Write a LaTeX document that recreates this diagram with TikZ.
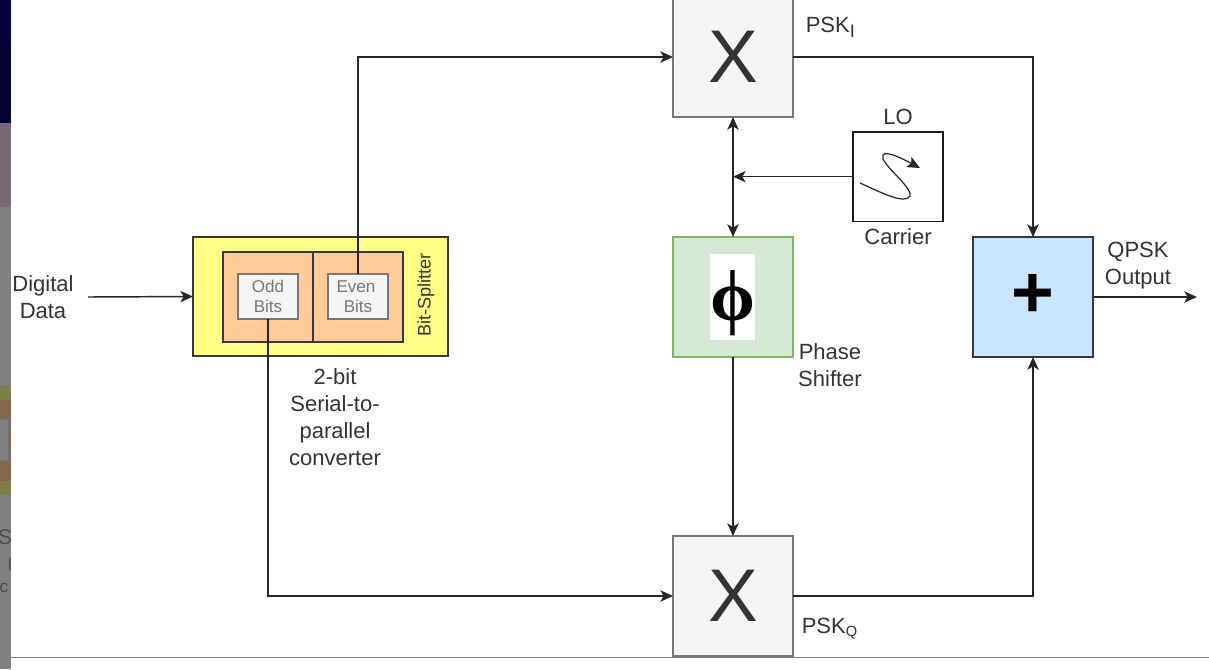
\documentclass[tikz,border=0pt]{standalone}
\usepackage{fontspec}
\setmainfont{Liberation Sans}
\usetikzlibrary{arrows.meta,calc}
\definecolor{txt}{HTML}{333333}
\definecolor{gborder}{HTML}{777777}
\definecolor{dborder}{HTML}{36393D}
\definecolor{gfill}{HTML}{F5F5F5}
\definecolor{orangef}{HTML}{FFCC99}
\definecolor{yellowf}{HTML}{FFFF88}
\definecolor{bluef}{HTML}{CCE5FF}
\definecolor{greenf}{HTML}{D5E8D4}
\definecolor{greenb}{HTML}{82B366}
\definecolor{navya}{HTML}{04033E}
\definecolor{navyb}{HTML}{020234}
\definecolor{mauve}{HTML}{7A6976}
\definecolor{stripg}{HTML}{808080}
\definecolor{olive}{HTML}{7E7E4C}
\definecolor{brownf}{HTML}{82674C}
\newcommand{\fsz}[1]{\fontsize{#1}{#1}\selectfont}
\newcommand{\fszb}[2]{\fontsize{#1}{#2}\selectfont}
\tikzset{
  x=0.75pt,y=-0.75pt,
  box/.style={draw,line width=1.1pt,inner sep=0pt,outer sep=0pt,anchor=north west},
  mult/.style={box,draw=gborder,fill=gfill,text=txt,minimum width=90pt,minimum height=90pt,font=\fsz{56}},
  inner cell/.style={box,draw=dborder,fill=orangef,minimum width=67.5pt,minimum height=67.5pt},
  bits/.style={box,draw=gborder,fill=gfill,text=gborder,minimum width=45pt,minimum height=33.75pt,align=center,font=\fszb{12.8}{15}},
  lbl/.style={text=txt,align=center,font=\fszb{16.5}{20.25},inner sep=0pt},
  conn/.style={draw=black!85,line width=1.1pt,-{Stealth[length=9.5pt,width=8.5pt,inset=2.5pt]}},
  connb/.style={draw=black!85,line width=1.1pt,{Stealth[length=9.5pt,width=8.5pt,inset=2.5pt]}-{Stealth[length=9.5pt,width=8.5pt,inset=2.5pt]}}
}
\begin{document}
\begin{tikzpicture}
\useasboundingbox (0,0) rectangle (1209,669);
% leftover strip of the underlying window
\fill[white] (0,0) rectangle (1209,669);
\fill[stripg] (0,207) rectangle (11,669);
\fill[navya] (0,0) rectangle (11,123);
\fill[navyb] (0,38) rectangle (11,123);
\fill[mauve] (0,123) rectangle (11,207);
\fill[olive] (0,385) rectangle (11,495);
\fill[brownf] (0,400) rectangle (11,481);
\draw[black!55,line width=0.8pt,fill=stripg] (-2,419) rectangle (8.5,461);
\node[text=black!70,font=\fsz{16},inner sep=0pt] (fs) at (5,537) {S};
\node[text=black!70,font=\fsz{13},inner sep=0pt] (fi) at (10,565) {I};
\node[text=black!70,font=\fsz{13},inner sep=0pt] (fc) at (4,588) {c};
\draw[black!50,line width=0.7pt] (11,657.5) -- (1209,657.5);
% blocks
\node[mult] (xt) at (673,-3) {X};
\node[mult] (xb) at (673,536) {X};
\node[box,draw=greenb,fill=greenf,minimum width=90pt,minimum height=90pt] (ps) at (673,237) {};
\node[fill=white,minimum width=33.75pt,minimum height=65pt,inner sep=0pt] (phi) at (732.5,297) {};
\node[font=\fsz{54}\bfseries,text=black,inner sep=0pt] (phig) at (733,303) {\fontspec{Liberation Serif}[BoldFont={Liberation Serif Bold}]ϕ};
\node[box,draw=dborder,fill=bluef,minimum width=90pt,minimum height=90pt] (plus) at (973,237) {};
\node[font=\fsz{55}\bfseries,text=black,inner sep=0pt] (plusg) at (1033,296) {+};
\node[box,draw=dborder,fill=yellowf,minimum width=191.25pt,minimum height=89.25pt] (split) at (193,237) {};
\node[inner cell] (co) at (223,252) {};
\node[inner cell] (ce) at (313,252) {};
\node[bits] (odd) at (238,274) {Odd\\Bits};
\node[bits] (even) at (328,274) {Even\hspace*{3pt}\\Bits};
\node[text=txt,font=\fsz{13.6},rotate=90,inner sep=0pt] (bs) at (426,295) {Bit-Splitter};
\node[box,draw=black!90,fill=white,minimum width=67.5pt,minimum height=67pt] (lo) at (853,132) {};
% labels
\node[lbl] (dd) at (43,297) {Digital\\Data};
\node[lbl] (conv) at (335,417) {2-bit\\Serial-to-\\parallel\\converter};
\node[lbl] (plo) at (898,117) {LO};
\node[lbl] (car) at (898,237) {Carrier};
\node[lbl] (psl) at (830,365) {Phase\\Shifter};
\node[lbl] (qo) at (1138,266) {QPSK\\Output};
\node[lbl,anchor=base west] (psi) at (805.5,32) {PSK\raisebox{-3.75pt}{\fsz{13.6}I}};
\node[lbl,anchor=base west] (psq) at (801.5,633) {PSK\raisebox{-2.6pt}{\fsz{11}Q}};
% connector ends
\coordinate (din) at (88,297);
\coordinate (dout) at (1197,297);
% connectors
\draw[conn] (din) -- (split.west);
\draw[conn] (even.north) |- (xt.west);
\draw[conn] (odd.south) |- (xb.west);
\draw[conn] (ps.south) -- (xb.north);
\draw[connb] (xt.south) -- (ps.north);
\draw[conn] (lo.west) -- (lo.west -| xt.south);
\draw[conn] (xt.east) -| (plus.north);
\draw[conn] (xb.east) -| (plus.south);
\draw[conn] (plus.east) -- (dout);
% carrier glyph
\draw[draw=black!85,line width=0.9pt,-{Stealth[length=9.5pt,width=8.5pt,inset=2pt]}] (860,183) .. controls (880,192) and (905,205) .. (910,196) .. controls (913,187) and (878,162) .. (883,155) .. controls (886,150) and (905,160) .. (920,168);
\end{tikzpicture}
\end{document}
